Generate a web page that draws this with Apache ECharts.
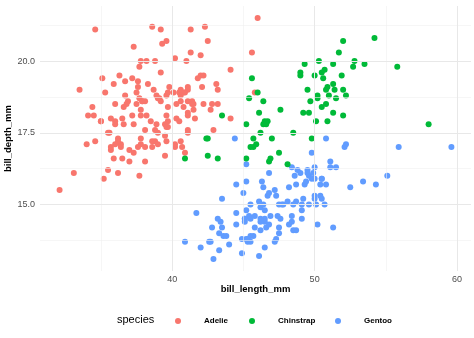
<!DOCTYPE html>
<html>
<head>
<meta charset="utf-8">
<script src="https://cdn.jsdelivr.net/npm/echarts@6/dist/echarts.min.js"></script>
<style>html,body{margin:0;padding:0;background:#fff}#c{width:474px;height:338px}</style>
</head>
<body>
<div id="c"></div>
<script>
const speciesNames = ["Adelie", "Chinstrap", "Gentoo"];
const speciesColors = ["#F8766D", "#00BA38", "#619CFF"];

const adelieLength = [39.1,39.5,40.3,36.7,39.3,38.9,39.2,34.1,42.0,37.8,37.8,41.1,38.6,34.6,36.6,38.7,42.5,34.4,46.0,37.8,37.7,35.9,38.2,38.8,35.3,40.6,40.5,37.9,40.5,39.5,37.2,39.5,40.9,36.4,39.2,38.8,42.2,37.6,39.8,36.5,40.8,36.0,44.1,37.0,39.6,41.1,37.5,36.0,42.3,39.6,40.1,35.0,42.0,34.5,41.4,39.0,40.6,36.5,37.6,35.7,41.3,37.6,41.1,36.4,41.6,35.5,41.1,35.9,41.8,33.5,39.7,39.6,45.8,35.5,42.8,40.9,37.2,36.2,42.1,34.6,42.9,36.7,35.1,37.3,41.3,36.3,36.9,38.3,38.9,35.7,41.1,34.0,39.6,36.2,40.8,38.1,40.3,33.1,43.2,35.0,41.0,37.7,37.8,37.9,39.7,38.6,38.2,38.1,43.2,38.1,45.6,39.7,42.2,39.6,42.7,38.6,37.3,35.7,41.1,36.2,37.7,40.2,41.4,35.2,40.6,38.8,41.5,39.0,44.1,38.5,43.1,36.8,37.5,38.1,41.1,35.6,40.2,37.0,39.7,40.2,40.6,32.1,40.7,37.3,39.0,39.2,36.6,36.0,37.8,36.0,41.5];
const adelieDepth = [18.7,17.4,18.0,19.3,20.6,17.8,19.6,18.1,20.2,17.1,17.3,17.6,21.2,21.1,17.8,19.0,20.7,18.4,21.5,18.3,18.7,19.2,18.1,17.2,18.9,18.6,17.9,18.6,18.9,16.7,18.1,17.8,18.9,17.0,21.1,20.0,18.5,19.3,19.1,18.0,18.4,18.5,19.7,16.9,18.8,19.0,18.9,17.9,21.2,17.7,18.9,17.9,19.5,18.1,18.6,17.5,18.8,16.6,19.1,16.9,21.1,17.0,18.2,17.1,18.0,16.2,19.1,16.6,19.4,19.0,18.4,17.2,18.9,17.5,18.5,16.8,19.4,16.1,19.1,17.2,17.6,18.8,19.4,17.8,20.3,19.5,18.6,19.2,18.8,18.0,18.1,17.1,18.1,17.3,18.9,18.6,18.5,16.1,18.5,17.9,20.0,16.0,20.0,18.6,18.9,17.2,20.0,17.0,19.0,16.5,20.3,17.7,19.5,20.7,18.3,17.0,20.5,17.0,18.6,17.2,19.8,17.0,18.5,15.9,19.0,17.6,18.3,17.1,18.0,17.9,19.2,18.5,18.5,17.6,17.5,17.5,20.1,16.5,17.9,17.1,17.2,15.5,17.0,16.8,18.7,18.6,18.4,17.8,18.1,17.1,18.5];

const gentooLength = [46.1,50.0,48.7,50.0,47.6,46.5,45.4,46.7,43.3,46.8,40.9,49.0,45.5,48.4,45.8,49.3,42.0,49.2,46.2,48.7,50.2,45.1,46.5,46.3,42.9,46.1,44.5,47.8,48.2,50.0,47.3,42.8,45.1,59.6,49.1,48.4,42.6,44.4,44.0,48.7,42.7,49.6,45.3,49.6,50.5,43.6,45.5,50.5,44.9,45.2,46.6,48.5,45.1,50.1,46.5,45.0,43.8,45.5,43.2,50.4,45.3,46.2,45.7,54.3,45.8,49.8,46.2,49.5,43.5,50.7,47.7,46.4,48.2,46.5,46.4,48.6,47.5,51.1,45.2,45.2,49.1,52.5,47.4,50.0,44.9,50.8,43.4,51.3,47.5,52.1,47.5,52.2,45.5,49.5,44.5,50.8,49.4,46.9,48.4,51.1,48.5,55.9,47.2,49.1,47.3,46.8,41.7,53.4,43.3,48.1,50.5,49.8,43.5,51.5,46.2,55.1,44.5,48.8,47.2,46.8,50.4,45.2,49.9];
const gentooDepth = [13.2,16.3,14.1,15.2,14.5,13.5,14.6,15.3,13.4,15.4,13.7,16.1,13.7,14.6,14.6,15.7,13.5,15.2,14.5,15.1,14.3,14.5,14.5,15.8,13.1,15.1,14.3,15.0,14.3,15.3,15.3,14.2,14.5,17.0,14.8,16.3,13.7,17.3,13.6,15.7,13.7,16.0,13.7,15.0,15.9,13.9,13.9,15.9,13.3,15.8,14.2,14.1,14.4,15.0,14.4,15.4,13.9,15.0,14.5,15.3,13.8,14.9,13.9,15.7,14.2,16.8,14.4,16.2,14.2,15.0,15.0,15.6,15.6,14.8,15.0,16.0,14.2,16.3,13.8,16.4,14.5,15.6,14.6,15.9,13.8,17.3,14.4,14.2,14.0,17.0,15.0,17.1,14.5,16.1,14.7,15.7,15.8,14.6,14.4,16.5,15.0,17.0,15.5,15.0,13.8,16.1,14.7,15.8,14.0,15.1,15.2,15.9,15.2,16.3,14.1,16.0,15.7,16.2,13.7,14.3,15.7,14.8,16.1];

const chinstrapLength = [46.5,50.0,51.3,45.4,52.7,45.2,46.1,51.3,46.0,51.3,46.6,51.7,47.0,52.0,45.9,50.5,50.3,58.0,46.4,49.2,42.4,48.5,43.2,50.6,46.7,52.0,50.5,49.5,46.4,52.8,40.9,54.2,42.5,51.0,49.7,47.5,47.6,52.0,46.9,53.5,49.0,46.2,50.9,45.5,50.9,50.8,50.1,49.0,51.5,49.8,48.1,51.4,45.7,50.7,42.5,52.2,45.2,49.3,50.2,45.6,51.9,46.8,45.7,55.8,43.5,49.6,50.8,50.2];
const chinstrapDepth = [17.9,19.5,19.2,18.7,19.8,17.8,18.2,18.2,18.9,19.9,17.8,20.3,17.3,18.1,17.1,19.6,20.0,17.8,18.6,18.2,17.3,17.5,16.6,19.4,17.9,19.0,18.4,19.0,17.8,20.0,16.6,20.8,16.7,18.8,18.6,16.8,18.3,20.7,16.6,19.9,19.5,17.5,19.1,17.0,17.9,18.5,17.9,19.6,18.7,17.3,16.4,19.0,17.3,19.7,17.3,18.8,16.6,19.9,18.8,19.4,19.5,16.5,17.0,19.8,18.1,18.2,19.0,18.7];

const xMajorTicks = [40, 50, 60];
const xMinorTicks = [35, 45, 55];
const yMajorTicks = [15, 17.5, 20];
const yMinorTicks = [13.75, 16.25, 18.75, 21.25];

const zip = (a, b) => a.map((v, i) => [v, b[i]]);
const seriesData = {
  Adelie: zip(adelieLength, adelieDepth),
  Chinstrap: zip(chinstrapLength, chinstrapDepth),
  Gentoo: zip(gentooLength, gentooDepth)
};
const zOrder = {Adelie: 2, Gentoo: 3, Chinstrap: 4};

const FONT = "Liberation Sans, Arial, sans-serif";
const chart = echarts.init(document.getElementById('c'), null, {renderer: 'canvas'});

const gridLines = [];
xMinorTicks.forEach(v => gridLines.push({xAxis: v, lineStyle: {color: '#f0f0f0', width: 0.6, type: 'solid'}}));
yMinorTicks.forEach(v => gridLines.push({yAxis: v, lineStyle: {color: '#f0f0f0', width: 0.6, type: 'solid'}}));
xMajorTicks.forEach(v => gridLines.push({xAxis: v, lineStyle: {color: '#e8e8e8', width: 1, type: 'solid'}}));
yMajorTicks.forEach(v => gridLines.push({yAxis: v, lineStyle: {color: '#e8e8e8', width: 1, type: 'solid'}}));

const series = [{
  type: 'scatter', name: '_grid', data: [], silent: true, z: 1,
  markLine: {silent: true, symbol: 'none', label: {show: false}, animation: false,
    lineStyle: {type: 'solid'}, emphasis: {disabled: true}, data: gridLines}
}];
speciesNames.forEach((n, i) => {
  series.push({
    type: 'scatter', name: n, data: seriesData[n], symbolSize: 6, z: zOrder[n],
    itemStyle: {color: speciesColors[i], opacity: 1}
  });
});

const legendLefts = [175, 249, 335];
const legends = speciesNames.map((n, i) => ({
  data: [{name: n, icon: 'circle'}], left: legendLefts[i], top: 317, padding: 0,
  itemWidth: 6, itemHeight: 6,
  textStyle: {fontFamily: FONT, fontSize: 8, fontWeight: 'bold', color: '#000', padding: [0, 0, 0, 18]}
}));

chart.setOption({
  animation: false,
  backgroundColor: '#ffffff',
  textStyle: {fontFamily: FONT},
  grid: {left: 40, right: 3, top: 6, bottom: 67, containLabel: false, outerBoundsMode: 'none'},
  title: {text: 'species', left: 117, top: 314, padding: 0,
    textStyle: {fontFamily: FONT, fontSize: 11, fontWeight: 'normal', color: '#000'}},
  legend: legends,
  xAxis: {
    type: 'value', min: 30.725, max: 60.975,
    name: 'bill_length_mm', nameLocation: 'middle', nameGap: 13, nameMoveOverlap: false,
    nameTextStyle: {fontFamily: FONT, fontSize: 9.5, fontWeight: 'bold', color: '#000'},
    axisLine: {show: false}, axisTick: {show: false}, splitLine: {show: false},
    axisLabel: {customValues: xMajorTicks, margin: 4, fontSize: 9, color: '#4d4d4d', fontFamily: FONT,
      formatter: v => String(v)}
  },
  yAxis: {
    type: 'value', min: 12.68, max: 21.92,
    name: 'bill_depth_mm', nameLocation: 'middle', nameGap: 27, nameRotate: 90, nameMoveOverlap: false,
    nameTextStyle: {fontFamily: FONT, fontSize: 9.5, fontWeight: 'bold', color: '#000'},
    axisLine: {show: false}, axisTick: {show: false}, splitLine: {show: false},
    axisLabel: {customValues: yMajorTicks, margin: 5, fontSize: 9, color: '#4d4d4d', fontFamily: FONT,
      formatter: v => v.toFixed(1)}
  },
  series: series
});
</script>
</body>
</html>
